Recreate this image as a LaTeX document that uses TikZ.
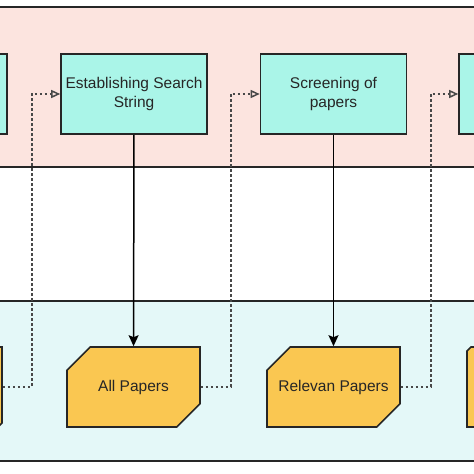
\documentclass[tikz,border=0pt]{standalone}
\usepackage{fontspec}
\setmainfont{Liberation Sans}
\usetikzlibrary{arrows.meta,shapes.misc}
\definecolor{bandpink}{HTML}{FCE4DF}
\definecolor{bandcyan}{HTML}{E4F8F8}
\definecolor{taskfill}{HTML}{AAF5E8}
\definecolor{docfill}{HTML}{FAC751}
\definecolor{linkgray}{HTML}{484848}
\tikzstyle{band}=[draw=black!85, line width=2.2pt]
\tikzstyle{task}=[rectangle, fill=taskfill, draw=black!85, line width=1.6pt, minimum width=146pt, minimum height=80pt, inner sep=2pt, align=center, text=black!85, font=\fontsize{15.5}{18.5}\selectfont]
\tikzstyle{doc}=[chamfered rectangle, chamfered rectangle corners={north west,south east}, chamfered rectangle xsep=14pt, chamfered rectangle ysep=14pt, fill=docfill, draw=black!85, line width=1.6pt, minimum width=133pt, minimum height=80pt, inner sep=2pt, align=center, text=black!85, font=\fontsize{15.5}{18.5}\selectfont]
\tikzstyle{link}=[draw=linkgray, line width=1.5pt, dash pattern=on 2.6pt off 2.4pt, -{Triangle[open, length=9pt, width=8pt]}]
\tikzstyle{feed}=[draw=black, line width=1.5pt, -{Stealth[length=11pt, width=10pt, inset=2pt]}]

\begin{document}
\begin{tikzpicture}[x=1pt, y=-1pt]
	\clip (0,0) rectangle (474,474);
	\fill[white] (0,0) rectangle (474,474);

	% swimlanes
	\draw[band, fill=bandpink] (-5,7) rectangle (480,167);
	\draw[band, fill=bandcyan] (-5,301) rectangle (480,461);

	% activities
	\node[task](prevtask) at (-66,94) {};
	\node[task](search) at (134,94) {Establishing Search\\String};
	\node[task](screening) at (333.5,94) {Screening of\\papers};
	\node[task](nexttask) at (532,94) {};

	% artefacts
	\node[doc](prevdoc) at (-64.5,387) {};
	\node[doc](allpapers) at (133.5,387) {All Papers};
	\node[doc](relevant) at (333.5,387) {Relevan Papers};
	\node[doc](nextdoc) at (533.5,387) {};

	\draw[feed] (search) -- (allpapers);
	\draw[feed] (screening) -- (relevant);

	\draw[link] (prevdoc.east) -- ++(29,0) |- (search.west);
	\draw[link] (allpapers.east) -- ++(30,0) |- (screening.west);
	\draw[link] (relevant.east) -- ++(30,0) |- (nexttask.west);

\end{tikzpicture}
\end{document}
